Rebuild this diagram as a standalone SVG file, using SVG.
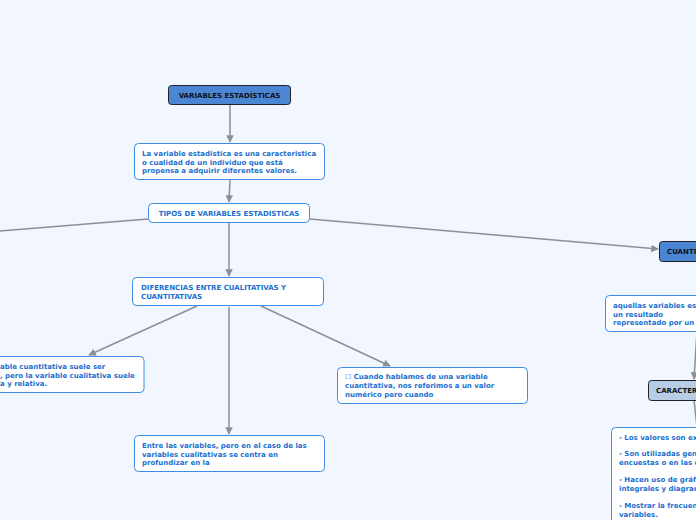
<svg xmlns="http://www.w3.org/2000/svg" width="696" height="520" viewBox="0 0 696 520">
<defs>
<marker id="ah" viewBox="0 0 10 10" refX="9" refY="5" markerWidth="5" markerHeight="5" orient="auto"><path d="M0,0 L10,5 L0,10 z" fill="#8a8f99"/></marker>
<style>
.n{fill:#fff;stroke:#3c8ce6;stroke-width:1}
.t{font-family:"DejaVu Sans",sans-serif;font-weight:bold;font-size:7px;fill:#1b6fd0}
.d{font-family:"DejaVu Sans",sans-serif;font-weight:bold;font-size:7px;fill:#111}
.c{stroke:#8a8f99;stroke-width:1.5;fill:none}
</style>
</defs>
<rect width="696" height="520" fill="#f2f6fe"/>
<g id="connectors">
<line class="c" x1="230" y1="104" x2="230" y2="142" marker-end="url(#ah)"/>
<line class="c" x1="230" y1="180" x2="229" y2="202" marker-end="url(#ah)"/>
<line class="c" x1="148" y1="219" x2="0" y2="231"/>
<line class="c" x1="310" y1="219" x2="658" y2="249" marker-end="url(#ah)"/>
<line class="c" x1="229" y1="223" x2="229" y2="276" marker-end="url(#ah)"/>
<line class="c" x1="197" y1="306" x2="89" y2="355" marker-end="url(#ah)"/>
<line class="c" x1="229" y1="307" x2="229" y2="434" marker-end="url(#ah)"/>
<line class="c" x1="261" y1="306" x2="390" y2="366" marker-end="url(#ah)"/>
<line class="c" x1="697" y1="331" x2="694" y2="379" marker-end="url(#ah)"/>
<line class="c" x1="694" y1="400" x2="697" y2="427"/>
</g>
<g id="root"><rect x="168.5" y="85.5" width="122" height="19" rx="3" fill="#4a86d4" stroke="#222"/><text class="d" x="229.5" y="97.5" text-anchor="middle">VARIABLES ESTADÍSTICAS</text></g>
<g id="def"><rect class="n" x="134.5" y="143.5" width="190" height="36" rx="4"/><text class="t" x="142" y="156">La variable estadistica es una caracteristica</text><text class="t" x="142" y="164.5">o cualidad de un individuo que está</text><text class="t" x="142" y="173">propensa a adquirir diferentes valores.</text></g>
<g id="tipos"><rect class="n" x="148.5" y="203.5" width="161" height="19" rx="4"/><text class="t" x="229" y="215.5" text-anchor="middle">TIPOS DE VARIABLES ESTADISTICAS</text></g>
<g id="dif"><rect class="n" x="132.5" y="277.5" width="191" height="28" rx="4"/><text class="t" x="141" y="290">DIFERENCIAS ENTRE CUALITATIVAS Y</text><text class="t" x="141" y="298.5">CUANTITATIVAS</text></g>
<g id="left"><rect class="n" x="-10" y="356.5" width="154" height="36" rx="4"/><text class="t" x="0" y="369">able cuantitativa suele ser</text><text class="t" x="0" y="377.5">, pero la variable cualitativa suele</text><text class="t" x="0" y="386">a y relativa.</text></g>
<g id="cuando"><rect class="n" x="337.5" y="367.5" width="190" height="36" rx="4"/><text class="t" x="345" y="379">☐ Cuando hablamos de una variable</text><text class="t" x="345" y="388">cuantitativa, nos referimos a un valor</text><text class="t" x="345" y="396.5">numérico pero cuando</text></g>
<g id="entre"><rect class="n" x="134.5" y="435.5" width="190" height="36" rx="4"/><text class="t" x="142" y="448">Entre las variables, pero en el caso de las</text><text class="t" x="142" y="456.5">variables cualitativas se centra en</text><text class="t" x="142" y="465">profundizar en la</text></g>
<g id="cuanti"><rect x="659.5" y="241.5" width="50" height="20" rx="3" fill="#4a86d4" stroke="#222"/><text class="d" x="667" y="254">CUANTI</text></g>
<g id="aquellas"><rect class="n" x="605.5" y="295.5" width="100" height="36" rx="4"/><text class="t" x="613" y="308">aquellas variables est</text><text class="t" x="613" y="316.5">un resultado</text><text class="t" x="613" y="325">representado por un</text></g>
<g id="caracter"><rect x="648.5" y="380.5" width="60" height="20" rx="3" fill="#b8cce4" stroke="#222"/><text class="d" x="656" y="393">CARACTER</text></g>
<g id="list"><rect class="n" x="611.5" y="427.5" width="100" height="100" rx="4"/><text class="t" x="619" y="440">- Los valores son ex</text><text class="t" x="619" y="456">- Son utilizadas gen</text><text class="t" x="619" y="464.5">encuestas o en las e</text><text class="t" x="619" y="482">- Hacen uso de gráf</text><text class="t" x="619" y="490.5">integrales y diagram</text><text class="t" x="619" y="508">- Mostrar la frecuen</text><text class="t" x="619" y="516.5">variables.</text></g>
</svg>
